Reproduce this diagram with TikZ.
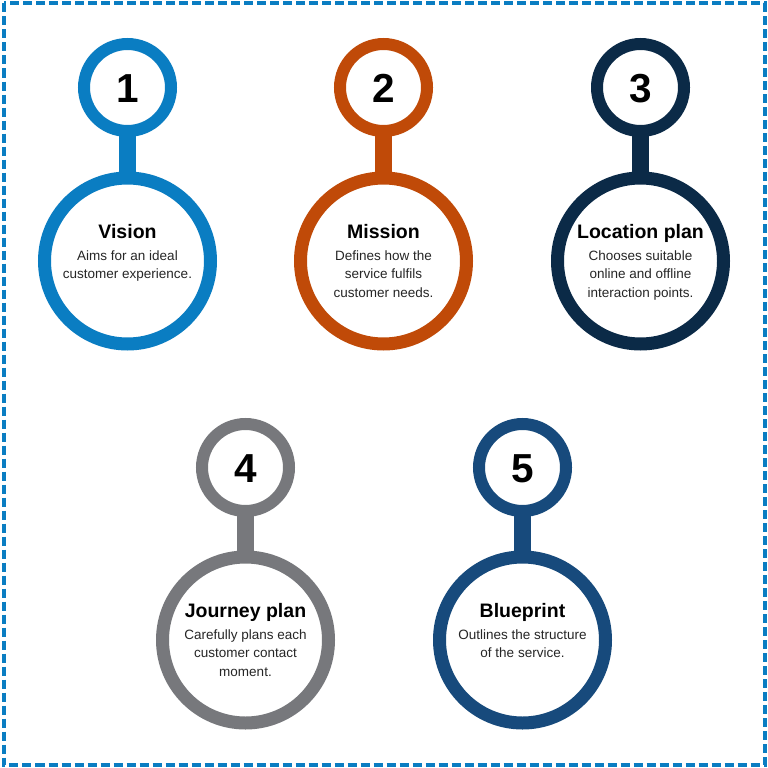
\documentclass[tikz,border=0pt]{standalone}
\usepackage{fontspec}
\setmainfont{Liberation Sans}
\definecolor{cOne}{HTML}{0A7DC2}
\definecolor{cTwo}{HTML}{C04A08}
\definecolor{cThree}{HTML}{0B2A47}
\definecolor{cFour}{HTML}{77787C}
\definecolor{cFive}{HTML}{174A7C}
\tikzset{
  frame/.style={draw=cOne, line width=4pt, dash pattern=on 9pt off 4pt},
  stem/.style={line width=17pt},
  smallring/.style={circle, line width=12pt, fill=white, minimum size=87pt, inner sep=0pt},
  bigring/.style={circle, line width=13pt, fill=white, minimum size=166pt, inner sep=0pt},
  numtxt/.style={font=\fontsize{40.5}{40}\selectfont\bfseries, anchor=base, inner sep=0pt},
  titletxt/.style={font=\fontsize{19.5}{22}\selectfont\bfseries, anchor=base, inner sep=0pt},
  desctxt/.style={font=\fontsize{13.5}{18.5}\selectfont, anchor=base, inner sep=0pt, text=black!85},
}
\pgfdeclarelayer{background}
\pgfsetlayers{background,main}
% #1 id, #2 x, #3 small y, #4 big y, #5 colour, #6 number, #7 title, #8 lines
\newcommand{\mkstage}[8]{%
  \node[smallring, draw=#5] (s#1) at (#2,#3) {};
  \node[bigring, draw=#5] (b#1) at (#2,#4) {};
  \begin{pgfonlayer}{background}
    \draw[stem, draw=#5] (s#1.center) -- (b#1.center);
  \end{pgfonlayer}
  \node[numtxt] (n#1) at (#2,#3+14.5) {#6};
  \node[titletxt] (t#1) at (#2,#4-23) {#7};
  \foreach \ln [count=\k] in {#8} {
    \node[desctxt] (d#1-\k) at (#2,#4-19.5+18.5*\k) {\ln};
  }%
}
\begin{document}
\begin{tikzpicture}[x=1pt,y=-1pt]
\useasboundingbox (0,0) rectangle (768,768);
\begin{pgfonlayer}{background}
\fill[white] (0,0) rectangle (768,768);
\end{pgfonlayer}
\draw[frame] (3.5,3.5) rectangle (764.5,764.5);
\mkstage{1}{127.5}{87.5}{261}{cOne}{1}{Vision}{Aims for an ideal,customer experience.}
\mkstage{2}{383.5}{87.5}{261}{cTwo}{2}{Mission}{Defines how the,service fulfils,customer needs.}
\mkstage{3}{640.5}{87.5}{261}{cThree}{3}{Location plan}{Chooses suitable,online and offline,interaction points.}
\mkstage{4}{245.5}{467.5}{640}{cFour}{4}{Journey plan}{Carefully plans each,customer contact,moment.}
\mkstage{5}{522.5}{467.5}{640}{cFive}{5}{Blueprint}{Outlines the structure,of the service.}
\end{tikzpicture}
\end{document}
